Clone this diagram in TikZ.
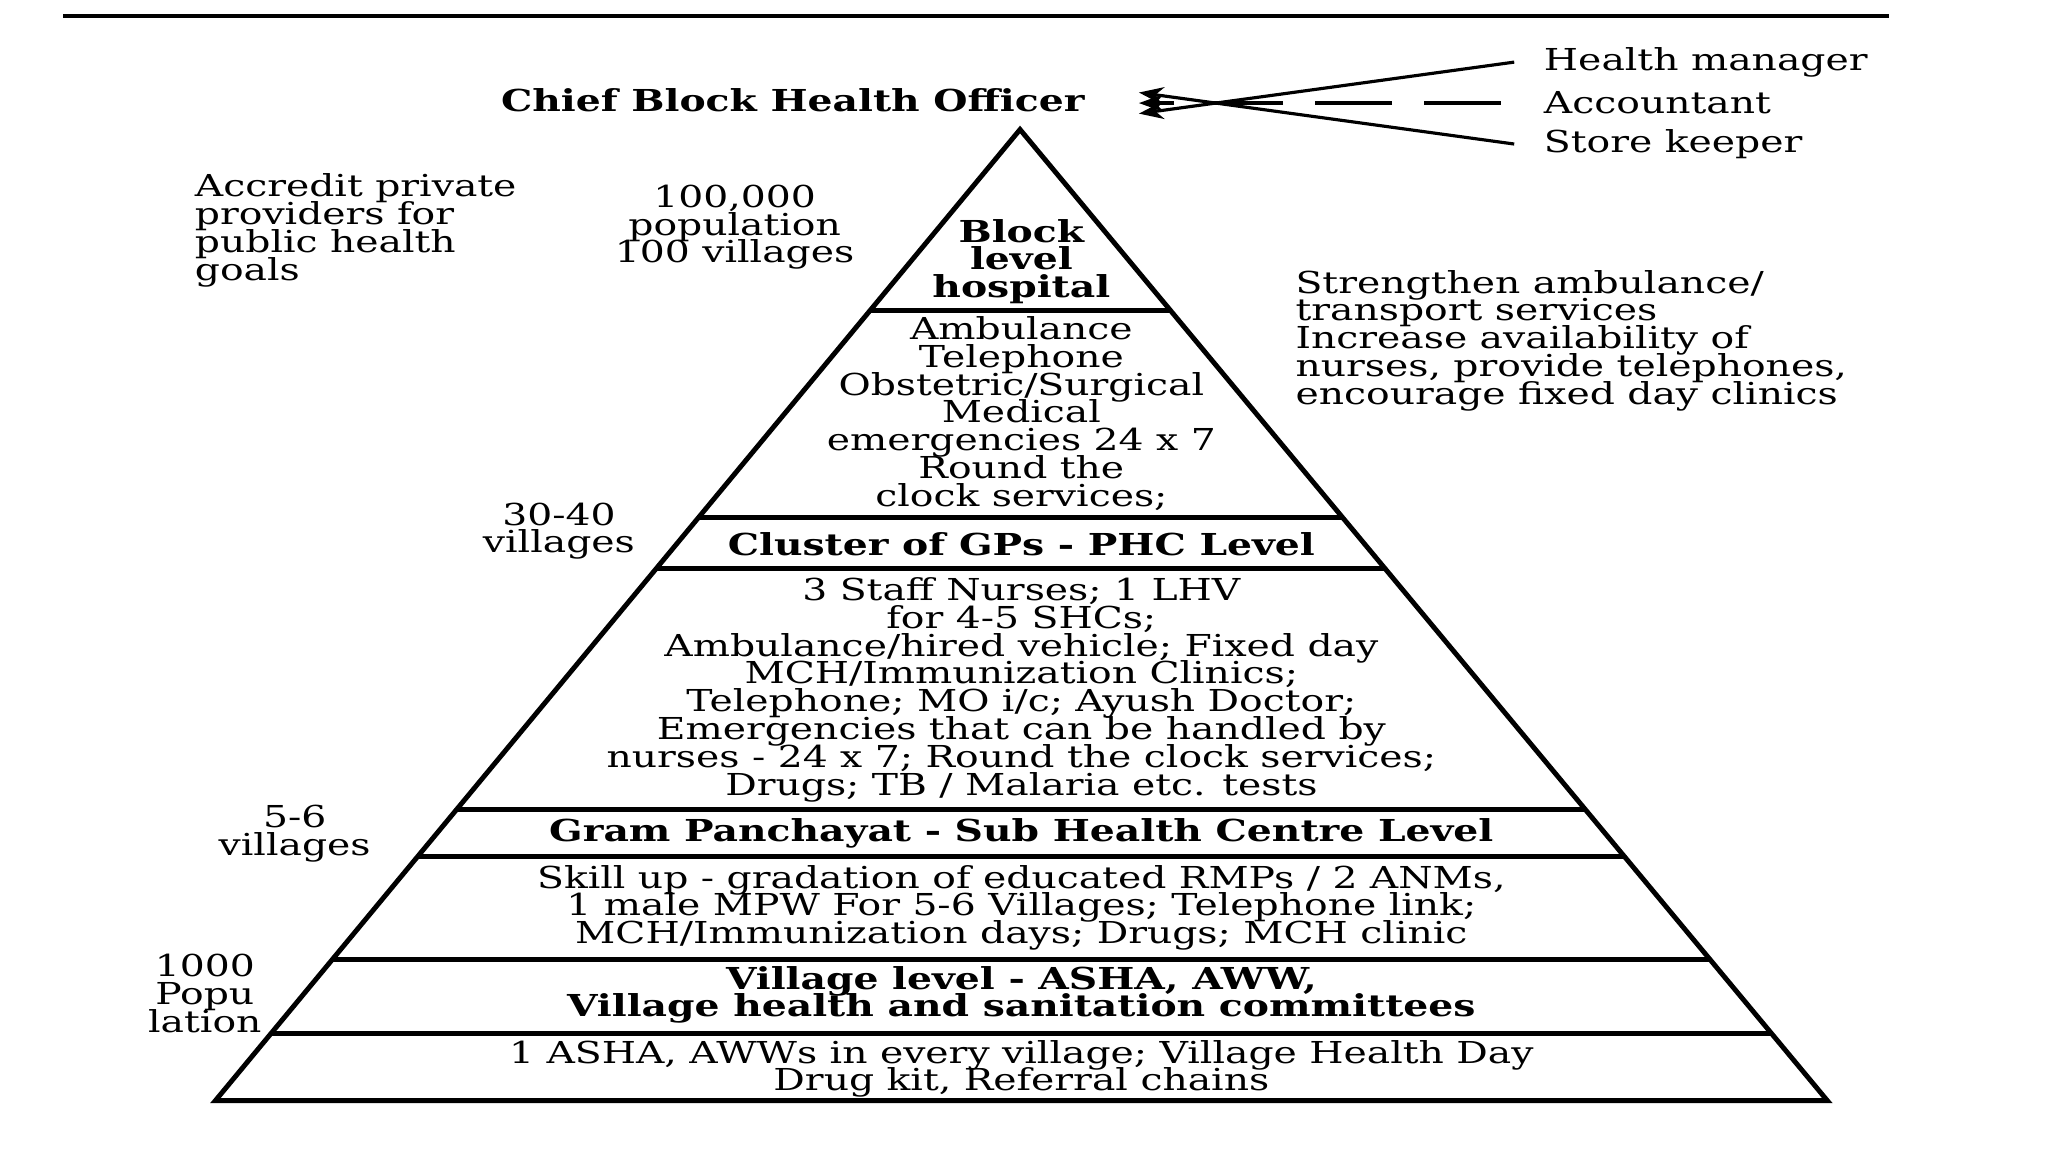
\documentclass[tikz,border=0pt]{standalone}
\usepackage{fontspec}
\setmainfont{DejaVu Serif}[FakeStretch=1.3]
\usetikzlibrary{calc,arrows.meta}
\lineskiplimit=-20pt
\lineskip=0pt
\begin{document}
\begin{tikzpicture}[x=0.013213cm,y=-0.013213cm,
  txt/.style={align=center,font=\fontsize{8.6}{7.9}\selectfont,inner sep=0pt},
  hdr/.style={txt,font=\fontsize{8.6}{7.9}\selectfont\bfseries},
  lft/.style={txt,align=left,anchor=north west},
  ln/.style={line width=1.4pt},
  arr/.style={line width=0.9pt,-{Stealth[length=7pt,width=5pt]}}]
\useasboundingbox (0,0) rectangle (1550,872);
\draw[line width=1pt] (48,12) -- (1430,12);
\coordinate (A) at (772,98);
\coordinate (BL) at (163,833);
\coordinate (BR) at (1383,833);
\draw[ln] (A) -- (BL) -- (BR) -- cycle;
\foreach \y/\n in {235/a,392/b,430/c,613/d,648/e,726/f,782/g}{
  \pgfmathsetmacro{\t}{(\y-98)/735}
  \draw[ln] ($(A)!\t!(BL)$) -- ($(A)!\t!(BR)$);}
\node[hdr] (chief) at (600,76) {Chief Block Health Officer};
\node[txt,anchor=west] (hm) at (1168,47) {Health manager};
\node[txt,anchor=west] (acc) at (1168,78) {Accountant};
\node[txt,anchor=west] (sk) at (1168,109) {Store keeper};
\coordinate (tip) at (862,78);
\draw[arr] (hm.west) ++(-22,0) -- ([yshift=-3]tip);
\draw[arr,dash pattern=on 22pt off 9pt] (acc.west) ++(-32,0) -- (tip);
\draw[arr] (sk.west) ++(-22,0) -- ([yshift=3]tip);
\node[lft] (acr) at (147,131) {Accredit private\\providers for\\public health\\goals};
\node[txt] (pop) at (556,172) {100,000\\population\\100 villages};
\node[hdr] (blk) at (773,198) {Block\\level\\hospital};
\node[lft] (str) at (980,204) {Strengthen ambulance/\\transport services\\Increase availability of\\nurses, provide telephones,\\encourage fixed day clinics};
\node[txt] (amb) at (773,313) {Ambulance\\Telephone\\Obstetric/Surgical\\Medical\\emergencies 24 x 7\\Round the\\clock services;};
\node[txt] (v30) at (423,402) {30-40\\villages};
\node[hdr] (phc) at (773,412) {Cluster of GPs - PHC Level};
\node[txt] (nur) at (773,522) {3 Staff Nurses; 1 LHV\\for 4-5 SHCs;\\Ambulance/hired vehicle; Fixed day\\MCH/Immunization Clinics;\\Telephone; MO i/c; Ayush Doctor;\\Emergencies that can be handled by\\nurses - 24 x 7; Round the clock services;\\Drugs; TB / Malaria etc. tests};
\node[txt] (v5) at (223,631) {5-6\\villages};
\node[hdr] (gp) at (773,631) {Gram Panchayat - Sub Health Centre Level};
\node[txt] (sk2) at (773,687) {Skill up - gradation of educated RMPs / 2 ANMs,\\1 male MPW For 5-6 Villages; Telephone link;\\MCH/Immunization days; Drugs; MCH clinic};
\node[txt] (k1) at (155,752) {1000\\Popu\\lation};
\node[hdr] (vl) at (773,753) {Village level - ASHA, AWW,\\Village health and sanitation committees};
\node[txt] (asha) at (773,809) {1 ASHA, AWWs in every village; Village Health Day\\Drug kit, Referral chains};
\end{tikzpicture}
\end{document}
